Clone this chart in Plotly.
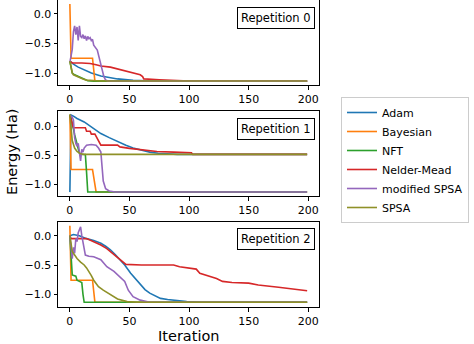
import plotly.graph_objects as go

# ---------------- data (iteration, energy) ----------------
methods = ["Adam", "Bayesian", "NFT", "Nelder-Mead", "modified SPSA", "SPSA"]
colors = ["#1f77b4", "#ff7f0e", "#2ca02c", "#d62728", "#9467bd", "#8f9128"]
rep_titles = ["Repetition 0", "Repetition 1", "Repetition 2"]
x_ticks = [0, 50, 100, 150, 200]
y_ticks = [0.0, -0.5, -1.0]
y_tick_text = ["0.0", "−0.5", "−1.0"]

# Repetition 0
adam0 = [(0, -0.80), (3, -0.85), (7, -0.90), (12, -0.95), (18, -1.00), (26, -1.05), (33, -1.08),
         (40, -1.10), (53, -1.125), (70, -1.137), (199, -1.137)]
bayes0 = [(0, 0.17), (1, -0.75), (19, -0.75), (21, -1.137), (199, -1.137)]
nft0 = [(0, -0.80), (1, -0.90), (2, -1.00), (4, -1.03), (6, -1.05), (9, -1.08), (12, -1.10),
        (15, -1.13), (20, -1.137), (199, -1.137)]
nm0 = [(0, -0.80), (2, -0.83), (10, -0.83), (17, -0.84), (22, -0.86), (26, -0.88), (34, -0.90),
       (38, -0.92), (41, -0.94), (45, -0.96), (48, -0.98), (52, -1.00), (59, -1.03), (61, -1.06),
       (62, -1.10), (75, -1.115), (92, -1.13), (100, -1.137), (199, -1.137)]
msp0 = [(0, -0.82), (2, -0.60), (3, -0.30), (4, -0.20), (5, -0.35), (6, -0.22), (7, -0.45),
        (8, -0.20), (9, -0.38), (10, -0.40), (11, -0.35), (12, -0.42), (13, -0.37), (14, -0.45),
        (15, -0.38), (16, -0.42), (17, -0.40), (18, -0.45), (19, -0.43), (20, -0.53), (23, -0.61),
        (26, -0.86), (28.5, -1.06), (30, -1.12), (32, -1.137), (199, -1.137)]
spsa0 = [(0, -0.80), (1, -0.90), (2, -1.00), (3, -1.03), (5, -1.05), (8, -1.08), (11, -1.10),
         (14, -1.12), (18, -1.13), (25, -1.135), (199, -1.135)]

# Repetition 1
adam1 = [(0, -1.14), (1, 0.19), (3, 0.17), (6, 0.13), (12, 0.07), (19, -0.03), (26, -0.13),
         (33, -0.20), (40, -0.27), (47, -0.33), (53, -0.38), (60, -0.42), (67, -0.45),
         (74, -0.47), (81, -0.48), (90, -0.489), (199, -0.489)]
bayes1 = [(0, 0.20), (1, -0.75), (19, -0.75), (20, -0.90), (21, -1.05), (22, -1.137), (199, -1.137)]
nft1 = [(0, 0.20), (2, 0.05), (4, -0.15), (6, -0.33), (8, -0.47), (10, -0.49), (13, -0.49),
        (14, -0.80), (15, -1.137), (199, -1.137)]
nm1 = [(0, 0.19), (3, -0.03), (13, -0.03), (14, -0.09), (17, -0.09), (18, -0.14), (21, -0.14),
       (23, -0.21), (25, -0.27), (26, -0.33), (40, -0.33), (42, -0.36), (50, -0.385),
       (62, -0.41), (73, -0.44), (87, -0.45), (102, -0.46), (103, -0.489), (199, -0.489)]
msp1 = [(0, 0.19), (2, 0.15), (3, 0.10), (4, -0.20), (5, -0.30), (6, -0.35), (7, -0.30),
        (8, -0.45), (9, -0.60), (10, -0.40), (11, -0.45), (12, -0.38), (14, -0.33), (18, -0.32),
        (22, -0.33), (24, -0.38), (26, -0.45), (27, -0.70), (28, -0.95), (30, -1.08),
        (33, -1.12), (38, -1.137), (199, -1.137)]
spsa1 = [(0, 0.19), (1, 0.00), (2, -0.25), (4, -0.38), (6, -0.44), (9, -0.48), (12, -0.489),
         (199, -0.489)]

# Repetition 2
adam2 = [(0, 0.00), (3, 0.02), (8, 0.00), (14, -0.05), (20, -0.08), (26, -0.13), (30, -0.18),
         (34, -0.24), (38, -0.32), (42, -0.41), (46, -0.50), (51, -0.64), (55, -0.74),
         (59, -0.84), (63, -0.92), (67, -0.98), (72, -1.03), (76, -1.07), (82, -1.09),
         (89, -1.11), (98, -1.125), (110, -1.137), (199, -1.137)]
bayes2 = [(0, 0.17), (1, -0.76), (19, -0.76), (21, -1.137), (199, -1.137)]
nft2 = [(0, 0.00), (1, -0.30), (2, -0.67), (5, -0.69), (6, -0.76), (8, -0.78), (10, -0.80),
        (11, -1.00), (12, -1.137), (199, -1.137)]
nm2 = [(0, 0.00), (1, -0.05), (14, -0.05), (20, -0.10), (26, -0.16), (31, -0.22), (37, -0.32),
       (42, -0.41), (47, -0.49), (60, -0.50), (87, -0.50), (92, -0.53), (100, -0.55),
       (106, -0.57), (109, -0.64), (114, -0.67), (123, -0.73), (128, -0.78), (136, -0.80),
       (150, -0.81), (158, -0.84), (175, -0.88), (192, -0.93), (199, -0.94)]
msp2 = [(0, 0.00), (1, -0.20), (2, -0.39), (3, -0.20), (4, -0.30), (5, -0.05), (6, -0.10),
        (7, 0.05), (8, 0.12), (9, 0.15), (10, 0.00), (12, -0.25), (13, -0.33), (16, -0.35),
        (20, -0.36), (26, -0.41), (31, -0.53), (37, -0.61), (42, -0.70), (46, -0.78),
        (49, -0.93), (53, -1.04), (59, -1.10), (67, -1.137), (199, -1.137)]
spsa2 = [(0, 0.00), (1, -0.15), (2, -0.27), (4, -0.33), (6, -0.39), (9, -0.45), (12, -0.50),
         (14, -0.55), (16, -0.61), (18, -0.68), (20, -0.76), (22, -0.82), (24, -0.87),
         (28, -0.93), (34, -1.01), (40, -1.08), (48, -1.125), (56, -1.137), (199, -1.137)]

reps = [
    [adam0, bayes0, nft0, nm0, msp0, spsa0],
    [adam1, bayes1, nft1, nm1, msp1, spsa1],
    [adam2, bayes2, nft2, nm2, msp2, spsa2],
]

# ---------------- figure ----------------
W, H = 474, 344
FONT = "DejaVu Sans"

def py(p):  # pixel row -> paper fraction
    return 1 - p / H

x_dom = [58 / W, 319 / W]
y_doms = [[py(85), py(0)], [py(196), py(111)], [py(307), py(222)]]
y_ranges = [[-1.203, 0.237], [-1.207, 0.259], [-1.217, 0.234]]
rep_box_top = [7, 118, 228]

fig = go.Figure()
layout = dict(
    width=W, height=H,
    margin=dict(l=0, r=0, t=0, b=0),
    paper_bgcolor="white", plot_bgcolor="white",
    font=dict(family=FONT, size=11, color="black"),
    showlegend=True,
    legend=dict(x=341 / W, y=py(97), xanchor="left", yanchor="top",
                bgcolor="white", bordercolor="#cccccc", borderwidth=1,
                font=dict(family=FONT, size=11), tracegroupgap=0),
    annotations=[],
)

for r in range(3):
    s = "" if r == 0 else str(r + 1)
    for m, series in enumerate(reps[r]):
        xs = [p[0] for p in series]
        ys = [p[1] for p in series]
        fig.add_trace(go.Scatter(
            x=xs, y=ys, mode="lines", name=methods[m],
            line=dict(color=colors[m], width=1.6),
            legendgroup=methods[m], showlegend=(r == 0),
            xaxis="x" + s, yaxis="y" + s))
    axis_common = dict(showline=True, mirror=True, linecolor="black", linewidth=1,
                       ticks="outside", ticklen=3.5, tickwidth=1, tickcolor="black",
                       showgrid=False, zeroline=False,
                       tickfont=dict(family=FONT, size=11, color="black"))
    layout["xaxis" + s] = dict(domain=x_dom, range=[-9.95, 208.95], anchor="y" + s,
                               tickvals=x_ticks, ticktext=[str(v) for v in x_ticks],
                               **axis_common)
    layout["yaxis" + s] = dict(domain=y_doms[r], range=y_ranges[r], anchor="x" + s,
                               tickvals=y_ticks, ticktext=y_tick_text, **axis_common)
    layout["annotations"].append(dict(
        text=rep_titles[r], xref="paper", yref="paper",
        x=315 / W, y=py(rep_box_top[r]), xanchor="right", yanchor="top",
        showarrow=False, font=dict(family=FONT, size=11.5, color="black"),
        bordercolor="black", borderwidth=1, borderpad=3, bgcolor="white"))

layout["annotations"].append(dict(
    text="Iteration", xref="paper", yref="paper", x=(58 + 319) / 2 / W, y=py(346),
    xanchor="center", yanchor="bottom", showarrow=False,
    font=dict(family=FONT, size=14.5, color="black")))
layout["annotations"].append(dict(
    text="Energy (Ha)", xref="paper", yref="paper", x=2 / W, y=py(152),
    xanchor="left", yanchor="middle", textangle=-90, showarrow=False,
    font=dict(family=FONT, size=14.5, color="black")))

fig.update_layout(**layout)
fig.write_html("out.html")
